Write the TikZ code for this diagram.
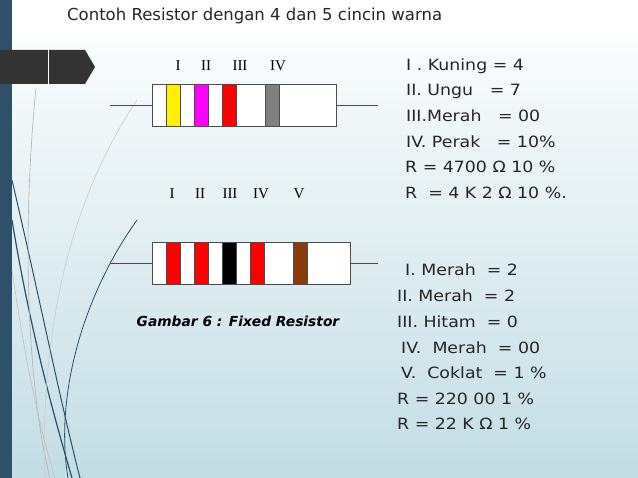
\documentclass[tikz,border=0pt]{standalone}
\usepackage{fontspec}
\setmainfont{DejaVu Sans}
\newfontfamily\widefont[FakeStretch=1.12]{DejaVu Sans}
\newfontfamily\serifroman{Liberation Serif}
\definecolor{bar}{HTML}{2E5068}
\definecolor{bgb}{HTML}{C3DDE5}
\definecolor{brown1}{HTML}{8B3A0E}
\definecolor{mag}{HTML}{FF00FF}
\begin{document}
\begin{tikzpicture}[x=1pt,y=-1pt,
  txt/.style={anchor=west,inner sep=0,text=black!85,font=\widefont\fontsize{15.5}{17}\selectfont},
  rn/.style={inner sep=0,font=\serifroman\fontsize{15}{17}\selectfont},
  band/.style={draw=black!70,line width=0.6pt},
  body/.style={draw=black!70,line width=0.8pt,fill=white},
  lead/.style={draw=black!70,line width=0.8pt}]
\useasboundingbox (0,0) rectangle (638,478);
\shade[top color=white,bottom color=bgb] (0,0) rectangle (638,478);
\fill[white] (12,0) rectangle (638,40);
\fill[bar] (0,0) rectangle (12,478);
% curves
\draw[bar,line width=1pt] (12,180) .. controls (40,300) and (60,400) .. (80,478);
\draw[bar,line width=1.2pt] (12,220) .. controls (30,330) and (55,420) .. (72,478);
\draw[bar,line width=0.8pt] (137,220) .. controls (80,300) and (55,400) .. (68,478);
\draw[gray!60,line width=0.6pt] (36,88) .. controls (20,250) and (30,400) .. (50,478);
\draw[gray!40,line width=0.6pt] (137,100) .. controls (70,200) and (40,330) .. (45,478);
\draw[gray!50,line width=0.6pt] (12,270) .. controls (25,360) and (40,430) .. (55,478);
% arrow
\fill[black!80] (0,50) -- (85,50) -- (95,67) -- (85,84) -- (0,84) -- cycle;
\draw[white,line width=1pt] (48,50) -- (48,84);
\node[anchor=west,inner sep=0,text=black!85,font=\fontsize{16.5}{18}\selectfont] (title) at (67,16) {Contoh Resistor dengan 4 dan 5 cincin warna};
% resistor 1
\coordinate (l1) at (110,105); \coordinate (r1) at (378,105);
\node[body,minimum width=184pt,minimum height=42pt,inner sep=0] (b1) at (244,105) {};
\draw[lead] (l1) -- (b1.west); \draw[lead] (b1.east) -- (r1);
\foreach \xa/\c in {166/yellow,194/mag,222/red,265/gray}
  \filldraw[band,fill=\c] (\xa,84) rectangle (\xa+14,126);
\foreach \xx/\t in {178/I,206/II,240/III,278/IV} \node[rn] at (\xx,66) {\t};
% resistor 2
\coordinate (l2) at (110,263); \coordinate (r2) at (378,263);
\node[body,minimum width=198pt,minimum height=42pt,inner sep=0] (b2) at (251,263) {};
\draw[lead] (l2) -- (b2.west); \draw[lead] (b2.east) -- (r2);
\foreach \xa/\c in {166/red,194/red,222/black,250/red,293/brown1}
  \filldraw[band,fill=\c] (\xa,242) rectangle (\xa+14,284);
\foreach \xx/\t in {172/I,200/II,230/III,261/IV,299/V} \node[rn] at (\xx,194) {\t};
\node[inner sep=0,font=\bfseries\itshape\fontsize{13.8}{15}\selectfont] (cap) at (238,321) {Gambar 6 : Fixed Resistor};
% right texts
\node[txt] at (406,66) {I . Kuning = 4};
\node[txt] at (406,91) {II. Ungu\ \ \ = 7};
\node[txt] at (406,116) {III.Merah\ \ \ = 00};
\node[txt] at (406,142) {IV. Perak\ \ \ = 10\%};
\node[txt] at (405,167) {R = 4700 Ω 10 \%};
\node[txt] at (405,193) {R\ \ = 4 K 2 Ω 10 \%.};
\node[txt] at (405,270) {I. Merah\ \ = 2};
\node[txt] at (397,296) {II. Merah\ \ = 2};
\node[txt] at (397,322) {III. Hitam\ \ = 0};
\node[txt] at (401,348) {IV.\ \ Merah\ \ = 00};
\node[txt] at (401,373) {V.\ \ Coklat\ \ = 1 \%};
\node[txt] at (397,399) {R = 220 00 1 \%};
\node[txt] at (397,424) {R = 22 K Ω 1 \%};
\end{tikzpicture}
\end{document}
